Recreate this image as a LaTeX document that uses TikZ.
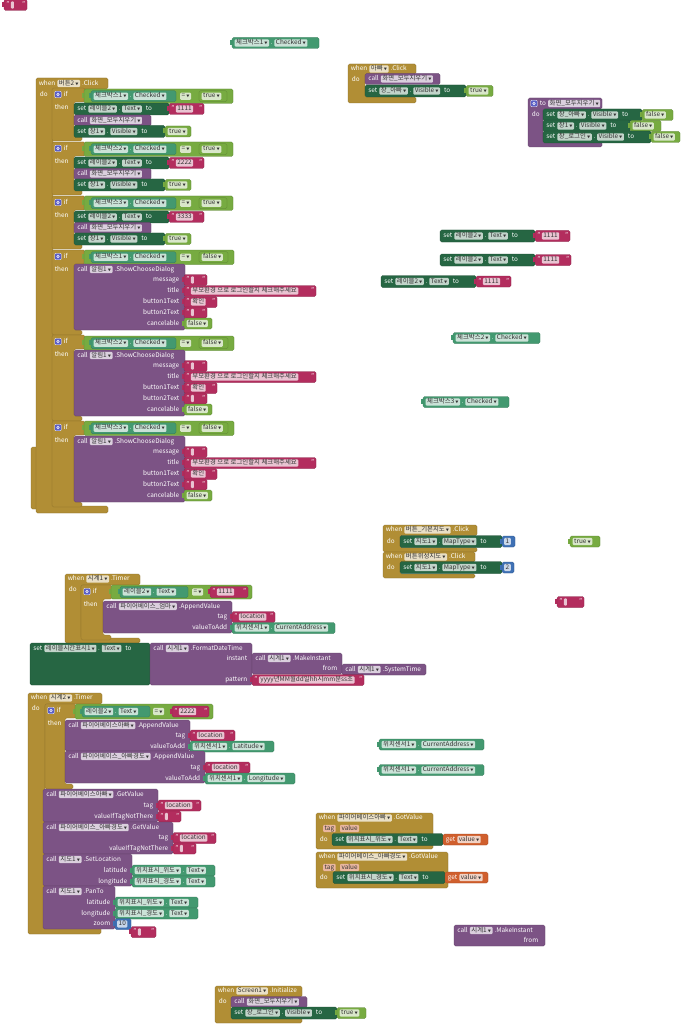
\documentclass[tikz,border=0pt]{standalone}
\usepackage{fontspec}
\setmainfont{Noto Sans CJK KR}
\usetikzlibrary{positioning}

\definecolor{evt}{HTML}{B18E35}
\definecolor{lgc}{HTML}{77AB41}
\definecolor{txt}{HTML}{B32D5E}
\definecolor{setc}{HTML}{266643}
\definecolor{getc}{HTML}{439970}
\definecolor{proc}{HTML}{7C5385}
\definecolor{mth}{HTML}{3F71B5}
\definecolor{var}{HTML}{D05F2D}
\definecolor{gear}{HTML}{5B5FC7}

\newcommand\bfs{\fontsize{6.4}{7}\selectfont}
\newcommand\ddn{\,\scalebox{.5}{▼}}
\newcommand\emp{\hspace{2.5pt}}

\tikzset{
  blk/.style={rounded corners=1.5pt, fill=#1, draw=#1!75!black, line width=.3pt},
  lbl/.style={text=white, inner sep=.6pt, font=\bfs, text height=4.5pt, text depth=1.3pt},
  fld/.style={fill=white, fill opacity=.72, text opacity=1, text=black!80, rounded corners=1pt,
    inner xsep=1.5pt, inner ysep=.7pt, font=\bfs, text height=4.5pt, text depth=1.3pt},
  prm/.style={fld, fill=var!45!white, fill opacity=1},
}

% node names come from a counter
\newcounter{nd}
\newcommand\nxt{\stepcounter{nd}\edef\pp{n\thend}}
\newcommand\lbw[3]{\nxt\node[lbl, anchor=west] (\pp) at (#1,#2) {#3};}
\newcommand\lbe[3]{\nxt\node[lbl, anchor=east] (\pp) at (#1,#2) {#3};}
\newcommand\fldw[3]{\nxt\node[fld, anchor=west] (\pp) at (#1,#2) {#3};}
\newcommand\vtab[3]{\fill[#1] (#2-2,#3-3) rectangle (#2+.5,#3+2);}
\newcommand\gicon[2]{\nxt
  \node[fill=gear, draw=white, line width=.4pt, rounded corners=.8pt, minimum size=6.5pt, inner sep=0] (\pp) at (#1,#2) {};
  \draw[white, line width=.5pt] (\pp) circle (1.3pt);}

% component getter: x1, x2, y, component, property
\newcommand\getter[5]{\nxt
  \vtab{getc}{#1}{#3}
  \draw[blk=getc] (#1,#3-5.5) rectangle (#2,#3+5.5);
  \node[fld, anchor=west] (\pp a) at (#1+2.5,#3) {#4\ddn};
  \node[lbl, right=.8pt of \pp a] (\pp b) {.};
  \node[fld, right=.8pt of \pp b] (\pp c) {#5\ddn};}
% component setter
\newcommand\setr[5]{\nxt
  \draw[blk=setc] (#1,#3-6) rectangle (#2,#3+6);
  \node[lbl, anchor=west] (\pp a) at (#1+2.5,#3) {set};
  \node[fld, right=1.2pt of \pp a] (\pp b) {#4\ddn};
  \node[lbl, right=.8pt of \pp b] (\pp c) {.};
  \node[fld, right=.8pt of \pp c] (\pp d) {#5\ddn};
  \node[lbl, right=3pt of \pp d] (\pp e) {to};}
% text, logic, number
\newcommand\txt[4]{\nxt
  \vtab{txt}{#1}{#3}
  \draw[blk=txt] (#1,#3-5.5) rectangle (#2,#3+5.5);
  \node[lbl, anchor=west] (\pp a) at (#1+1.5,#3) {"};
  \node[fld, right=.6pt of \pp a] (\pp b) {#4};
  \node[lbl, anchor=east] (\pp c) at (#2-1,#3) {"};}
\newcommand\lgcb[4]{\nxt
  \vtab{lgc}{#1}{#3}
  \draw[blk=lgc] (#1,#3-5.5) rectangle (#2,#3+5.5);
  \node[fld, anchor=west] (\pp) at (#1+2.5,#3) {#4\ddn};}
\newcommand\numb[4]{\nxt
  \vtab{mth}{#1}{#3}
  \draw[blk=mth] (#1,#3-5.5) rectangle (#2,#3+5.5);
  \node[fld, anchor=west] (\pp) at (#1+2,#3) {#4};}
% calls
\newcommand\pcall[4]{\nxt
  \draw[blk=proc] (#1,#3-5.5) rectangle (#2,#3+5.5);
  \node[lbl, anchor=west] (\pp a) at (#1+2.5,#3) {call};
  \node[fld, right=1.2pt of \pp a] (\pp b) {#4\ddn};}
\newcommand\mcall[6]{\nxt
  \draw[blk=proc] (#1,#3) rectangle (#2,#4);
  \node[lbl, anchor=west] (\pp a) at (#1+2.5,#3+5.5) {call};
  \node[fld, right=1.2pt of \pp a] (\pp b) {#5\ddn};
  \node[lbl, right=1pt of \pp b] (\pp c) {.#6};}
\newcommand\whenl[4]{\nxt
  \node[lbl, anchor=west] (\pp a) at (#1,#2) {when};
  \node[fld, right=1.2pt of \pp a] (\pp b) {#3\ddn};
  \node[lbl, right=1pt of \pp b] (\pp c) {.#4};}
% if block: left x, arm x, head x, top, bottom
\newcommand\ifb[5]{\nxt
  \draw[blk=evt] (#1,#4) -- (#3,#4) -- (#3,#4+14) -- (#2,#4+14) -- (#2,#5-5) -- (#2+8,#5-5) -- (#2+8,#5) -- (#1,#5) -- cycle;
  \gicon{#1+6}{#4+6.5}
  \node[lbl, right=1.5pt of \pp] (\pp b) {if};
  \node[lbl, anchor=west] (\pp c) at (#1+2,#4+20) {then};}
% checkbox test: top, checkbox, value, right x
\newcommand\cnd[4]{%
  \vtab{lgc}{84}{#1+7}
  \draw[blk=lgc] (84,#1) rectangle (#4,#1+14.5);
  \getter{91}{176}{#1+7.25}{#2}{Checked}
  \fldw{180}{#1+7.25}{=\ddn}
  \lgcb{199}{#4-6}{#1+7.25}{#3}}
% choose dialog: top
\newcommand\dlg[1]{%
  \mcall{74}{185}{#1}{#1+66}{알림1}{ShowChooseDialog}
  \lbe{180}{#1+16}{message} \txt{184}{207}{#1+16}{\emp}
  \lbe{180}{#1+27}{title} \txt{184}{316}{#1+27}{부모환경 으로 로그인할지 체크해주세요}
  \lbe{180}{#1+38}{button1Text} \txt{184}{217}{#1+38}{확인}
  \lbe{180}{#1+48.5}{button2Text} \txt{184}{207}{#1+48.5}{\emp}
  \lbe{180}{#1+59.5}{cancelable} \lgcb{184}{212}{#1+59.5}{false}}

\begin{document}
\begin{tikzpicture}[x=1pt,y=-1pt]
\useasboundingbox (0,0) rectangle (680,1024);
\fill[white] (0,0) rectangle (680,1024);

% loose blocks at the top
\txt{4}{27}{5}{\emp}
\getter{232}{319}{43}{체크박스1}{Checked}

% when 버튼2.Click
\draw[blk=evt] (31,447) rectangle (45,509);
\draw[blk=evt] (36,78) -- (108,78) -- (108,89) -- (53,89) -- (53,506) -- (108,506) -- (108,513) -- (36,513) -- cycle;
\whenl{38}{83.5}{버튼2}{Click}
\lbw{39}{94.5}{do}

\ifb{52}{74}{85}{88}{141}
\cnd{89}{체크박스1}{true}{233}
\setr{74}{169}{109}{레이블2}{Text} \txt{169}{204}{109}{1111}
\pcall{74}{151}{120.5}{화면\_모두지우기}
\setr{74}{165}{131.5}{창1}{Visible} \lgcb{165}{191}{131.5}{true}

\ifb{52}{74}{85}{142}{195}
\cnd{142}{체크박스2}{true}{233}
\setr{74}{169}{163}{레이블2}{Text} \txt{169}{204}{163}{2222}
\pcall{74}{151}{174}{화면\_모두지우기}
\setr{74}{165}{185}{창1}{Visible} \lgcb{165}{191}{185}{true}

\ifb{52}{74}{85}{196}{249}
\cnd{196}{체크박스3}{true}{233}
\setr{74}{169}{217}{레이블2}{Text} \txt{169}{204}{217}{3333}
\pcall{74}{151}{228}{화면\_모두지우기}
\setr{74}{165}{239}{창1}{Visible} \lgcb{165}{191}{239}{true}

\ifb{52}{74}{85}{250}{335}
\cnd{250}{체크박스1}{false}{234}
\dlg{264}

\ifb{52}{74}{85}{335}{421}
\cnd{336}{체크박스2}{false}{234}
\dlg{350}

\ifb{52}{74}{85}{421}{507}
\cnd{421}{체크박스3}{false}{234}
\dlg{436}

% when 아빠.Click
\draw[blk=evt] (348,64) -- (416,64) -- (416,74) -- (365,74) -- (365,97) -- (416,97) -- (416,103) -- (348,103) -- cycle;
\whenl{350}{69}{아빠}{Click}
\lbw{351}{80}{do}
\pcall{365}{440}{79}{화면\_모두지우기}
\setr{365}{466}{91}{창\_아빠}{Visible} \lgcb{466}{493}{91}{true}

% to 화면_모두지우기
\draw[blk=proc] (528,98) -- (602,98) -- (602,109) -- (543,109) -- (543,142) -- (602,142) -- (602,147) -- (528,147) -- cycle;
\gicon{534}{103.5}
\node[lbl, right=1.5pt of \pp] (tohd) {to};
\node[fld, right=1.2pt of tohd] (toname) {화면\_모두지우기\ddn};
\lbw{531}{115}{do}
\setr{543}{642}{115}{창\_아빠}{Visible} \lgcb{642}{673}{115}{false}
\setr{543}{630}{126}{창1}{Visible} \lgcb{630}{661}{126}{false}
\setr{543}{651}{137}{창\_로그인}{Visible} \lgcb{651}{680}{137}{false}

% loose blocks on the right
\setr{440}{535}{236}{레이블2}{Text} \txt{535}{570}{236}{1111}
\setr{440}{535}{260}{레이블2}{Text} \txt{535}{571}{260}{1111}
\setr{381}{476}{281.5}{레이블2}{Text} \txt{476}{511}{281.5}{1111}
\getter{453}{540}{338}{체크박스2}{Checked}
\getter{423}{509}{402}{체크박스3}{Checked}

% map buttons
\draw[blk=evt] (383,525) -- (477,525) -- (477,535.5) -- (400,535.5) -- (400,547.5) -- (477,547.5) -- (477,552) -- (383,552) -- cycle;
\whenl{385}{530}{버튼\_기본지도}{Click}
\lbw{386}{541.5}{do}
\setr{400}{502}{541.5}{지도1}{MapType} \numb{502}{515}{541.5}{1}
\draw[blk=evt] (383,552) -- (475,552) -- (475,562) -- (400,562) -- (400,574) -- (475,574) -- (475,578) -- (383,578) -- cycle;
\whenl{385}{557}{버튼위성지도}{Click}
\lbw{386}{567.5}{do}
\setr{400}{502}{567.5}{지도1}{MapType} \numb{502}{514}{567.5}{2}
\lgcb{570}{600}{541.5}{true}
\txt{557}{584}{602}{\emp}

% when 시계1.Timer
\draw[blk=evt] (65,574) -- (140,574) -- (140,585) -- (81,585) -- (81,638) -- (140,638) -- (140,643) -- (65,643) -- cycle;
\whenl{67}{579}{시계1}{Timer}
\lbw{68}{590}{do}
\ifb{81}{103}{112}{585}{640}
\vtab{lgc}{111}{592}
\draw[blk=lgc] (111,585) rectangle (252,599);
\getter{120}{188}{592}{레이블2}{Text}
\fldw{192}{592}{=\ddn}
\txt{210}{248}{592}{1111}
\mcall{103}{232}{601}{633}{파이어베이스\_엄마}{AppendValue}
\lbe{228}{617}{tag} \txt{232}{275}{617}{location}
\lbe{228}{628}{valueToAdd} \getter{232}{335}{628}{위치센서1}{CurrentAddress}

% set 레이블시간표시1.Text
\draw[blk=setc] (30,643) rectangle (150,685);
\node[lbl, anchor=west] (tmset) at (32.5,648.5) {set};
\node[fld, right=1.2pt of tmset] (tmcomp) {레이블시간표시1\ddn};
\node[lbl, right=.8pt of tmcomp] (tmdot) {.};
\node[fld, right=.8pt of tmdot] (tmprop) {Text\ddn};
\node[lbl, right=3pt of tmprop] (tmto) {to};
\mcall{150}{252}{643}{685}{시계1}{FormatDateTime}
\lbe{248}{659}{instant}
\lbe{248}{680}{pattern}
\mcall{252}{342}{653}{674}{시계1}{MakeInstant}
\lbe{338}{669}{from}
\mcall{342}{426}{664}{675}{시계1}{SystemTime}
\txt{252}{364}{680}{yyyy년MM월dd일hh시mm분ss초}

% when 시계2.Timer
\draw[blk=evt] (28,693) -- (102,693) -- (102,704) -- (45,704) -- (45,927) -- (101,927) -- (101,934) -- (28,934) -- cycle;
\whenl{30}{698}{시계2}{Timer}
\lbw{31}{709}{do}
\ifb{45}{65}{76}{704}{789}
\vtab{lgc}{75}{711.5}
\draw[blk=lgc] (75,704) rectangle (213,719);
\getter{82}{150}{711.5}{레이블2}{Text}
\fldw{153}{711.5}{=\ddn}
\txt{172}{209}{711.5}{2222}
\mcall{65}{190}{720}{751}{파이어베이스아빠}{AppendValue}
\lbe{186}{735.5}{tag} \txt{190}{235}{735.5}{location}
\lbe{186}{746.5}{valueToAdd} \getter{190}{274}{746.5}{위치센서1}{Latitude}
\mcall{65}{205}{751}{783}{파이어베이스\_아빠경도}{AppendValue}
\lbe{201}{767.5}{tag} \txt{205}{250}{767.5}{location}
\lbe{201}{778.5}{valueToAdd} \getter{205}{295}{778.5}{위치센서1}{Longitude}
\mcall{43}{158}{789}{822}{파이어베이스아빠}{GetValue}
\lbe{154}{805.5}{tag} \txt{158}{201}{805.5}{location}
\lbe{154}{816.5}{valueIfTagNotThere} \txt{158}{181}{816.5}{\emp}
\mcall{43}{173}{822}{854}{파이어베이스\_아빠경도}{GetValue}
\lbe{169}{838}{tag} \txt{173}{216}{838}{location}
\lbe{169}{848.5}{valueIfTagNotThere} \txt{173}{196}{848.5}{\emp}
\mcall{43}{132}{854}{886}{지도1}{SetLocation}
\lbe{128}{870.5}{latitude} \getter{132}{215}{870.5}{위치표시\_위도}{Text}
\lbe{128}{881.5}{longitude} \getter{132}{215}{881.5}{위치표시\_경도}{Text}
\mcall{43}{115}{886}{929}{지도1}{PanTo}
\lbe{111}{902.5}{latitude} \getter{115}{198}{902.5}{위치표시\_위도}{Text}
\lbe{111}{913.5}{longitude} \getter{115}{198}{913.5}{위치표시\_경도}{Text}
\lbe{111}{924}{zoom} \numb{115}{131}{924}{10}
\txt{131}{156}{932}{\emp}

% loose getters
\getter{379}{484}{744.5}{위치센서1}{CurrentAddress}
\getter{379}{484}{770}{위치센서1}{CurrentAddress}

% GotValue events
\draw[blk=evt] (316,813) rectangle (433,849);
\whenl{318}{818}{파이어베이스아빠}{GotValue}
\node[prm, anchor=west] (pt1) at (323,828.5) {tag};
\node[prm, right=4pt of pt1] (pv1) {value};
\lbw{319}{839.5}{do}
\setr{332}{443}{839.5}{위치표시\_위도}{Text}
\draw[blk=var] (443,834) rectangle (488,845);
\node[lbl, anchor=west] (gv1) at (445,839.5) {get};
\node[fld, right=1.2pt of gv1] (gw1) {value\ddn};

\draw[blk=evt] (316,852) rectangle (448,888);
\whenl{318}{857}{파이어베이스\_아빠경도}{GotValue}
\node[prm, anchor=west] (pt2) at (323,867.5) {tag};
\node[prm, right=4pt of pt2] (pv2) {value};
\lbw{319}{878}{do}
\setr{333}{445}{877.5}{위치표시\_경도}{Text}
\draw[blk=var] (445,872) rectangle (488,883);
\node[lbl, anchor=west] (gv2) at (447,877.5) {get};
\node[fld, right=1.2pt of gv2] (gw2) {value\ddn};

% loose MakeInstant
\mcall{454}{545}{925}{946}{시계1}{MakeInstant}
\lbe{539}{941}{from}

% when Screen1.Initialize
\draw[blk=evt] (215,986) -- (302,986) -- (302,997) -- (231,997) -- (231,1018) -- (302,1018) -- (302,1023) -- (215,1023) -- cycle;
\whenl{217}{991}{Screen1}{Initialize}
\lbw{218}{1002}{do}
\pcall{231}{307}{1002}{화면\_모두지우기}
\setr{231}{337}{1013}{창\_로그인}{Visible} \lgcb{337}{366}{1013}{true}
\end{tikzpicture}
\end{document}
